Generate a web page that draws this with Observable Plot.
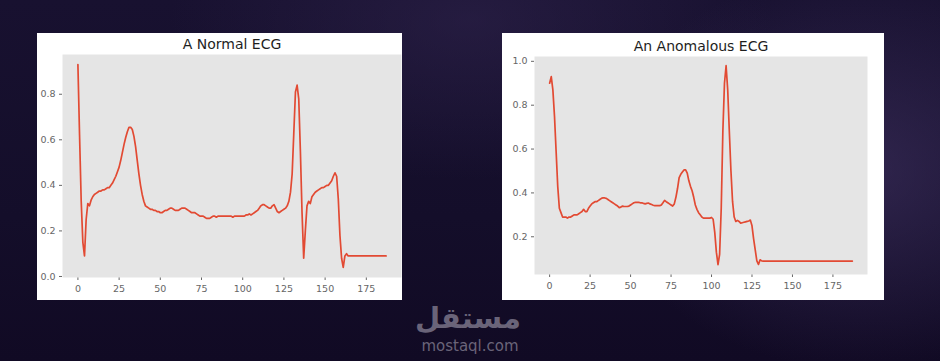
<!DOCTYPE html>
<html>
<head>
<meta charset="utf-8">
<script src="https://cdn.jsdelivr.net/npm/d3@7"></script>
<script src="https://cdn.jsdelivr.net/npm/@observablehq/plot@0.6"></script>
<style>
  html, body { margin: 0; padding: 0; }
  body {
    width: 940px; height: 361px; overflow: hidden; position: relative;
    background:
      radial-gradient(ellipse 260px 200px at 860px 170px, rgba(70,55,105,0.55), rgba(70,55,105,0) 100%),
      radial-gradient(ellipse 300px 160px at 470px 20px, rgba(50,38,80,0.5), rgba(50,38,80,0) 100%),
      linear-gradient(180deg, #181130 0%, #140e2a 60%, #110a24 100%);
    font-family: "DejaVu Sans", sans-serif;
  }
  .panel { position: absolute; }
  .wm1 { position: absolute; left: 0; width: 940px; top: 300px; text-align: center;
         color: #6a6479; font-family: "DejaVu Sans", sans-serif; font-weight: bold; font-size: 29px; line-height: 36px; }
  .wm2 { position: absolute; left: 0; width: 940px; top: 337px; text-align: center;
         color: #6a6479; font-family: "DejaVu Sans", sans-serif; font-size: 15px; line-height: 18px; }
</style>
</head>
<body>
<div id="left" class="panel" style="left:37px; top:33px;"></div>
<div id="right" class="panel" style="left:502px; top:33px;"></div>
<div class="wm1" style="margin-left:-2px">مستقل</div>
<div class="wm2">mostaql.com</div>
<script>
// ---- data ----
const titles = ["A Normal ECG", "An Anomalous ECG"];
const xTicks = [0, 25, 50, 75, 100, 125, 150, 175];
const yTicksNormal = [0.0, 0.2, 0.4, 0.6, 0.8];
const yTicksAnomalous = [0.2, 0.4, 0.6, 0.8, 1.0];

const normalECG = [
  0.93, 0.62, 0.33, 0.15, 0.09, 0.25, 0.32, 0.31, 0.335, 0.35,
  0.36, 0.365, 0.37, 0.375, 0.375, 0.38, 0.38, 0.385, 0.39, 0.39,
  0.40, 0.41, 0.425, 0.44, 0.46, 0.48, 0.51, 0.545, 0.58, 0.61,
  0.635, 0.655, 0.655, 0.645, 0.615, 0.57, 0.51, 0.45, 0.40, 0.36,
  0.33, 0.31, 0.305, 0.30, 0.295, 0.295, 0.29, 0.29, 0.285, 0.285,
  0.28, 0.28, 0.285, 0.29, 0.29, 0.295, 0.30, 0.30, 0.295, 0.29,
  0.29, 0.29, 0.295, 0.30, 0.30, 0.30, 0.295, 0.29, 0.285, 0.28,
  0.28, 0.28, 0.275, 0.27, 0.265, 0.265, 0.265, 0.26, 0.255, 0.255,
  0.255, 0.26, 0.265, 0.265, 0.26, 0.265, 0.265, 0.265, 0.265, 0.265,
  0.265, 0.265, 0.265, 0.265, 0.26, 0.265, 0.265, 0.265, 0.265, 0.265,
  0.265, 0.265, 0.27, 0.27, 0.275, 0.27, 0.275, 0.28, 0.285, 0.29,
  0.30, 0.31, 0.315, 0.315, 0.31, 0.305, 0.30, 0.30, 0.31, 0.315,
  0.30, 0.285, 0.28, 0.285, 0.29, 0.295, 0.30, 0.31, 0.33, 0.37,
  0.45, 0.63, 0.81, 0.84, 0.78, 0.55, 0.28, 0.08, 0.20, 0.31,
  0.33, 0.32, 0.35, 0.36, 0.37, 0.375, 0.38, 0.385, 0.39, 0.39,
  0.395, 0.40, 0.40, 0.41, 0.42, 0.44, 0.455, 0.44, 0.34, 0.18,
  0.08, 0.04, 0.09, 0.10, 0.09, 0.09, 0.09, 0.09, 0.09, 0.09,
  0.09, 0.09, 0.09, 0.09, 0.09, 0.09, 0.09, 0.09, 0.09, 0.09,
  0.09, 0.09, 0.09, 0.09, 0.09, 0.09, 0.09, 0.09
];

const anomalousECG = [
  0.90, 0.93, 0.87, 0.75, 0.59, 0.43, 0.33, 0.31, 0.29, 0.29,
  0.29, 0.285, 0.29, 0.29, 0.295, 0.30, 0.30, 0.30, 0.305, 0.31,
  0.315, 0.325, 0.315, 0.315, 0.33, 0.34, 0.35, 0.355, 0.36, 0.36,
  0.365, 0.37, 0.375, 0.378, 0.377, 0.375, 0.37, 0.365, 0.36, 0.355,
  0.35, 0.345, 0.34, 0.333, 0.335, 0.34, 0.338, 0.338, 0.338, 0.34,
  0.345, 0.35, 0.355, 0.357, 0.357, 0.357, 0.355, 0.355, 0.352, 0.35,
  0.352, 0.354, 0.35, 0.347, 0.344, 0.342, 0.342, 0.342, 0.342, 0.345,
  0.355, 0.366, 0.36, 0.355, 0.35, 0.345, 0.34, 0.35, 0.38, 0.42,
  0.47, 0.485, 0.495, 0.505, 0.505, 0.49, 0.455, 0.43, 0.41, 0.38,
  0.345, 0.325, 0.31, 0.30, 0.29, 0.285, 0.285, 0.285, 0.285, 0.285,
  0.288, 0.28, 0.22, 0.13, 0.073, 0.12, 0.33, 0.68, 0.90, 0.98,
  0.87, 0.68, 0.50, 0.36, 0.29, 0.27, 0.275, 0.27, 0.262, 0.264,
  0.266, 0.268, 0.27, 0.272, 0.276, 0.25, 0.19, 0.14, 0.09, 0.074,
  0.095, 0.09, 0.089, 0.089, 0.089, 0.089, 0.089, 0.089, 0.089, 0.089,
  0.089, 0.089, 0.089, 0.089, 0.089, 0.089, 0.089, 0.089, 0.089, 0.089,
  0.089, 0.089, 0.089, 0.089, 0.089, 0.089, 0.089, 0.089, 0.089, 0.089,
  0.089, 0.089, 0.089, 0.089, 0.089, 0.089, 0.089, 0.089, 0.089, 0.089,
  0.089, 0.089, 0.089, 0.089, 0.089, 0.089, 0.089, 0.089, 0.089, 0.089,
  0.089, 0.089, 0.089, 0.089, 0.089, 0.089, 0.089, 0.089
];

// ---- chart ----
function ecgChart(values, title, yDomain, yTicks, dims) {
  const data = values.map((v, i) => ({i, v}));
  const n = values.length - 1;
  const pad = n * 0.05;
  return Plot.plot({
    width: dims.width,
    height: dims.height,
    marginTop: dims.mt, marginRight: dims.mr, marginBottom: dims.mb, marginLeft: dims.ml,
    style: {background: "white", color: "#666666", fontFamily: "DejaVu Sans, sans-serif", fontSize: "9.5px", overflow: "visible"},
    x: {domain: [-pad, n + pad], ticks: xTicks, tickSize: 3, tickPadding: 5, tickFormat: d => String(d), label: null},
    y: {domain: yDomain, ticks: yTicks, tickSize: 3, tickPadding: 4, tickFormat: d3.format(".1f"), label: null},
    marks: [
      Plot.frame({fill: "#e5e5e5", stroke: null}),
      Plot.lineY(data, {x: "i", y: "v", stroke: "#e24a33", strokeWidth: 1.7}),
      Plot.text([title], {frameAnchor: "top", dy: -6, lineAnchor: "bottom", fontSize: 14, fill: "#1e1e1e", text: d => d})
    ]
  });
}

document.getElementById("left").appendChild(
  ecgChart(normalECG, titles[0], [-0.0045, 0.9745], yTicksNormal,
    {width: 365, height: 267, mt: 21, mr: 1, mb: 23, ml: 25}));
document.getElementById("right").appendChild(
  ecgChart(anomalousECG, titles[1], [0.028, 1.022], yTicksAnomalous,
    {width: 382, height: 267, mt: 23, mr: 17, mb: 26, ml: 32}));
</script>
</body>
</html>
